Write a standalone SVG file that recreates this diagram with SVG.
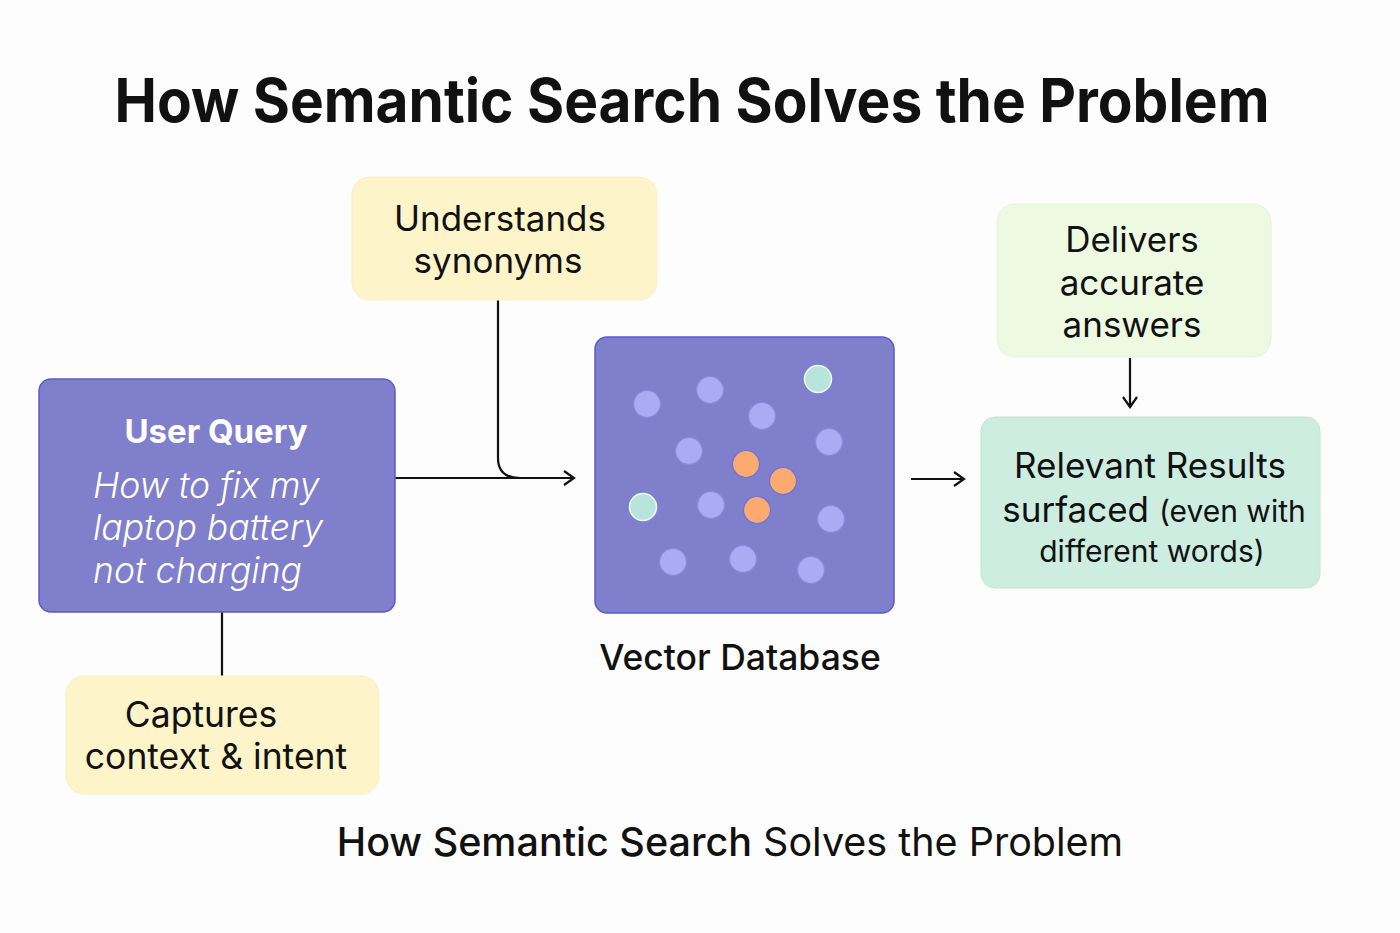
<svg xmlns="http://www.w3.org/2000/svg" width="1400" height="933" viewBox="0 0 1400 933">
<defs>
<style>
.t{font-family:Inter,"Liberation Sans",sans-serif;fill:#111;}
.w{font-family:Inter,"Liberation Sans",sans-serif;fill:#fff;}
.yel{fill:#fdf5c9;stroke:#f8efc4;stroke-width:1}
.dot{fill:#a9abf5;stroke:#8a8ad8;stroke-width:1.2}
.teal{fill:#b9e4dc;stroke:#e8fbf4;stroke-width:1.5}
.org{fill:#fdaa70;stroke:#6a72e0;stroke-width:1.2}
.ln{fill:none;stroke:#111;stroke-width:2.2}
</style>
<marker id="ah" markerWidth="14" markerHeight="16" refX="12" refY="8" orient="auto" markerUnits="userSpaceOnUse">
<path d="M2,1 L12,8 L2,15" fill="none" stroke="#111" stroke-width="2.2"/>
</marker>
</defs>
<rect width="1400" height="933" fill="#fdfdfd"/>
<text class="t" x="692" y="122" font-size="60" font-weight="700" text-anchor="middle" textLength="1155" lengthAdjust="spacingAndGlyphs">How Semantic Search Solves the Problem</text>

<g id="connectors">
<path class="ln" d="M395,478 L574,478" marker-end="url(#ah)"/>
<path class="ln" d="M498,300 L498,458 Q498,478 520,478"/>
<path class="ln" d="M911,479 L964,479" marker-end="url(#ah)"/>
<path class="ln" d="M1130,358 L1130,407" marker-end="url(#ah)"/>
<path class="ln" d="M222,612 L222,676"/>
</g>

<g id="user-query">
<rect x="39" y="379" width="356" height="233" rx="12" fill="#7f7fcc" stroke="#5b5bcc" stroke-width="1.5"/>
<text class="w" x="216" y="443" font-size="33" font-weight="700" text-anchor="middle">User Query</text>
<text class="w" x="93" y="498" font-size="35.5" font-style="italic" font-weight="300">How to fix my</text>
<text class="w" x="93" y="540" font-size="35.5" font-style="italic" font-weight="300">laptop battery</text>
<text class="w" x="93" y="583" font-size="35.5" font-style="italic" font-weight="300">not charging</text>
</g>

<g id="understands">
<rect class="yel" x="352" y="177" width="305" height="123" rx="18"/>
<text class="t" x="500" y="231" font-size="35" text-anchor="middle">Understands</text>
<text class="t" x="498" y="273" font-size="35" text-anchor="middle">synonyms</text>
</g>

<g id="captures">
<rect class="yel" x="66" y="676" width="313" height="118" rx="18"/>
<text class="t" x="201" y="727" font-size="35.5" text-anchor="middle">Captures</text>
<text class="t" x="216" y="769" font-size="35.5" text-anchor="middle">context &amp; intent</text>
</g>

<g id="vector-db">
<rect x="595" y="337" width="299" height="276" rx="12" fill="#7f7fcc" stroke="#5b5bcc" stroke-width="1.5"/>
<circle class="dot" cx="647" cy="404" r="13.5"/>
<circle class="dot" cx="710" cy="390" r="13.5"/>
<circle class="teal" cx="818" cy="379" r="13.5"/>
<circle class="dot" cx="762" cy="416" r="13.5"/>
<circle class="dot" cx="689" cy="451" r="13.5"/>
<circle class="dot" cx="829" cy="442" r="13.5"/>
<circle class="org" cx="746" cy="464" r="13.5"/>
<circle class="org" cx="783" cy="481" r="13.5"/>
<circle class="teal" cx="643" cy="507" r="13.5"/>
<circle class="dot" cx="711" cy="505" r="13.5"/>
<circle class="org" cx="757" cy="510" r="13.5"/>
<circle class="dot" cx="831" cy="519" r="13.5"/>
<circle class="dot" cx="673" cy="562" r="13.5"/>
<circle class="dot" cx="743" cy="559" r="13.5"/>
<circle class="dot" cx="811" cy="570" r="13.5"/>
<text class="t" x="740" y="670" font-size="35.5" font-weight="500" text-anchor="middle">Vector Database</text>
</g>

<g id="delivers">
<rect x="997" y="204" width="274" height="153" rx="18" fill="#eef9e2" stroke="#e6f4da" stroke-width="1"/>
<text class="t" x="1132" y="252" font-size="35" text-anchor="middle">Delivers</text>
<text class="t" x="1132" y="295" font-size="35" text-anchor="middle">accurate</text>
<text class="t" x="1132" y="337" font-size="35" text-anchor="middle">answers</text>
</g>

<g id="results">
<rect x="981" y="417" width="339" height="171" rx="14" fill="#ccede0" stroke="#c0e6d6" stroke-width="1"/>
<text class="t" x="1150" y="478" font-size="35" text-anchor="middle">Relevant Results</text>
<text class="t" x="1154" y="522" text-anchor="middle"><tspan font-size="35">surfaced </tspan><tspan font-size="30">(even with</tspan></text>
<text class="t" x="1152" y="562" font-size="30" text-anchor="middle">different words)</text>
</g>

<text class="t" x="730" y="856" font-size="39.5" text-anchor="middle"><tspan font-weight="500">How Semantic Search</tspan> Solves the Problem</text>
</svg>
